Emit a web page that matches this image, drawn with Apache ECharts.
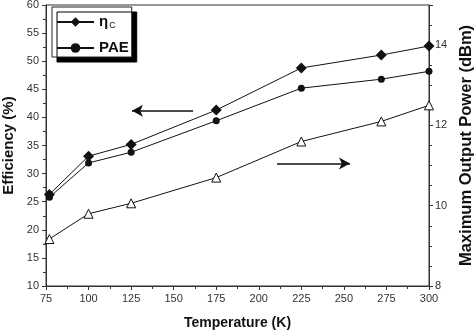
<!DOCTYPE html>
<html><head><meta charset="utf-8">
<script src="https://cdn.jsdelivr.net/npm/echarts@6/dist/echarts.min.js"></script>
<style>html,body{margin:0;padding:0;background:#fff}#c{width:474px;height:332px}</style>
</head><body><div id="c"></div>
<script>
var temps = [77, 100, 125, 175, 225, 272, 300];
var etaC = [26.3, 33.1, 35.2, 41.3, 48.8, 51.1, 52.7];
var pae = [25.8, 31.9, 33.8, 39.4, 45.2, 46.8, 48.2];
var power = [9.17, 9.8, 10.06, 10.7, 11.6, 12.1, 12.5];
var xTicks = [75, 100, 125, 150, 175, 200, 225, 250, 275, 300];
var leftArrow = [[161.4, 41.2], [125.5, 41.2]];
var rightArrow = [[210.7, 11.05], [253.6, 11.05]];

function pairs(xs, ys){ return xs.map(function(x,i){ return [x, ys[i]]; }); }
var font = 'Liberation Sans, Arial, sans-serif';
var ink = '#111';
var chart = echarts.init(document.getElementById('c'));
chart.setOption({
  animation: false,
  grid: {left: 46, right: 45, top: 5, bottom: 46, containLabel: false, outerBoundsMode: 'none',
    show: true, borderColor: '#333', borderWidth: 1, backgroundColor: 'transparent'},
  legend: {
    data: ['ηC', 'PAE'], orient: 'vertical', left: 52, top: 7,
    padding: [6, 3, 1, 4], itemGap: 10, itemWidth: 37, itemHeight: 12,
    backgroundColor: '#fff', borderColor: '#222', borderWidth: 1,
    shadowColor: '#000', shadowBlur: 0, shadowOffsetX: 5, shadowOffsetY: 5,
    formatter: function(n){ return n === 'ηC' ? '{e|η}{s|C}' : '{p|PAE}'; },
    textStyle: {lineHeight: 16, rich: {
      e: {fontFamily: font, fontSize: 15, fontWeight: 'bold', color: ink, lineHeight: 16},
      s: {fontFamily: font, fontSize: 9, color: ink, verticalAlign: 'bottom', padding: [8, 0, 0, 1], lineHeight: 16},
      p: {fontFamily: font, fontSize: 15, fontWeight: 'bold', color: ink, lineHeight: 16}
    }}
  },
  xAxis: {
    type: 'value', min: 75, max: 300, interval: 25,
    name: 'Temperature (K)', nameLocation: 'middle', nameGap: 30,
    nameTextStyle: {fontFamily: font, fontSize: 14, fontWeight: 'bold', color: ink},
    axisLine: {onZero: false, lineStyle: {color: '#333'}},
    axisTick: {inside: false, length: 4, lineStyle: {color: '#333'}},
    minorTick: {show: true, splitNumber: 2, length: 3, lineStyle: {color: '#333'}},
    splitLine: {show: false},
    axisLabel: {fontFamily: font, fontSize: 11, color: '#333', margin: 7,
      formatter: function(v){ return xTicks.indexOf(v) >= 0 ? String(v) : ''; }}
  },
  yAxis: [{
    type: 'value', min: 10, max: 60, interval: 5, position: 'left',
    name: 'Efficiency (%)', nameLocation: 'middle', nameGap: 26, nameRotate: 90,
    nameTextStyle: {fontFamily: font, fontSize: 15, fontWeight: 'bold', color: ink},
    axisLine: {show: true, lineStyle: {color: '#333'}},
    axisTick: {show: true, length: 4, lineStyle: {color: '#333'}},
    minorTick: {show: true, splitNumber: 2, length: 3, lineStyle: {color: '#333'}},
    splitLine: {show: false},
    axisLabel: {fontFamily: font, fontSize: 11, color: '#333', margin: 7}
  }, {
    type: 'value', min: 8, max: 15, interval: 2, position: 'right',
    name: 'Maximum Output Power (dBm)', nameLocation: 'middle', nameGap: 24, nameRotate: 90,
    nameTextStyle: {fontFamily: font, fontSize: 16.5, fontWeight: 'bold', color: ink},
    axisLine: {show: true, lineStyle: {color: '#333'}},
    axisTick: {show: true, length: 4, lineStyle: {color: '#333'}},
    minorTick: {show: true, splitNumber: 4, length: 3, lineStyle: {color: '#333'}},
    splitLine: {show: false},
    axisLabel: {fontFamily: font, fontSize: 11, color: '#333', margin: 6, showMaxLabel: false}
  }],
  series: [{
    name: 'ηC', type: 'line', yAxisIndex: 0, data: pairs(temps, etaC),
    symbol: 'diamond', symbolSize: 11, itemStyle: {color: ink},
    lineStyle: {color: ink, width: 1},
    markLine: {silent: true, symbol: ['none', 'arrow'], symbolSize: [9, 11],
      label: {show: false}, lineStyle: {color: ink, width: 1.5, type: 'solid'},
      data: [[{coord: leftArrow[0]}, {coord: leftArrow[1]}]]}
  }, {
    name: 'PAE', type: 'line', yAxisIndex: 0, data: pairs(temps, pae),
    symbol: 'circle', symbolSize: 7, itemStyle: {color: ink},
    lineStyle: {color: ink, width: 1}
  }, {
    name: 'Power', type: 'line', yAxisIndex: 1, data: pairs(temps, power),
    symbol: 'triangle', symbolSize: 9, itemStyle: {color: '#fff', borderColor: ink, borderWidth: 1},
    lineStyle: {color: ink, width: 1},
    markLine: {silent: true, symbol: ['none', 'arrow'], symbolSize: [9, 11],
      label: {show: false}, lineStyle: {color: ink, width: 1.5, type: 'solid'},
      data: [[{coord: rightArrow[0]}, {coord: rightArrow[1]}]]}
  }]
});
</script></body></html>
